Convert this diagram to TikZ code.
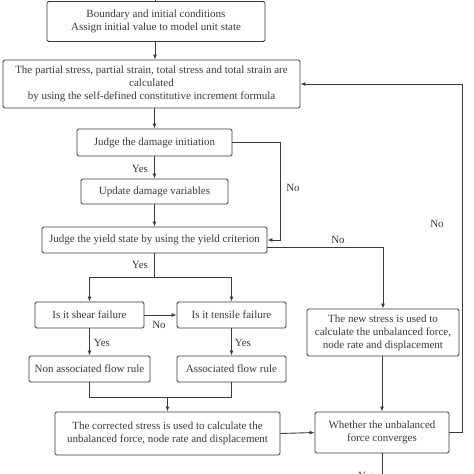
\documentclass[tikz,border=0pt]{standalone}
\usepackage{fontspec}
\setmainfont{Liberation Serif}
\usetikzlibrary{arrows.meta,calc}
\definecolor{ink}{HTML}{3A3A3A}
\tikzset{
  box/.style={draw=ink, line width=0.9pt, rounded corners=1.5pt, fill=white,
    text=ink, align=center, inner sep=0pt,
    font=\fontsize{11pt}{13pt}\selectfont},
  conn/.style={draw=ink, line width=0.9pt},
  arr/.style={conn, -{Latex[length=5pt,width=4pt]}},
  lbl/.style={text=ink, font=\fontsize{11pt}{13pt}\selectfont, inner sep=0pt}
}
\begin{document}
\begin{tikzpicture}[x=1pt,y=-1pt]
\useasboundingbox (0,0) rectangle (474,474);
\fill[white] (0,0) rectangle (474,474);
% nodes
\node[box, minimum width=218, minimum height=40] (top) at (156,21.5)
  {Boundary and initial conditions\\Assign initial value to model unit state};
\node[box, minimum width=297, minimum height=48] (calc) at (151.5,84)
  {The partial stress, partial strain, total stress and total strain are\\calculated\\by using the self-defined constitutive increment formula};
\node[box, minimum width=155, minimum height=27] (damage) at (154.5,142.5)
  {Judge the damage initiation};
\node[box, minimum width=147, minimum height=25] (update) at (154.5,191.5)
  {Update damage variables};
\node[box, minimum width=225, minimum height=26] (yield) at (154.5,240)
  {Judge the yield state by using the yield criterion};
\node[box, minimum width=109, minimum height=26] (shear) at (89.5,315)
  {Is it shear failure};
\node[box, minimum width=109, minimum height=26] (tensile) at (231.5,315)
  {Is it tensile failure};
\node[box, minimum width=152, minimum height=47] (newstress) at (383,332.5)
  {The new stress is used to\\calculate the unbalanced force,\\node rate and displacement};
\node[box, minimum width=121, minimum height=26] (nonassoc) at (89.5,369)
  {Non associated flow rule};
\node[box, minimum width=109, minimum height=26] (assoc) at (231.5,369)
  {Associated flow rule};
\node[box, minimum width=225, minimum height=43] (corrected) at (167.5,433.5)
  {The corrected stress is used to calculate the\\unbalanced force, node rate and displacement};
\node[box, minimum width=134, minimum height=41] (whether) at (382,432.5)
  {Whether the unbalanced\\force converges};
% free ends
\coordinate (intop) at (155,-5);
\coordinate (outbot) at (382,480);
% connectors
\draw[conn] (intop) -- (intop |- top.north);
\draw[arr] (top.south -| 155,0) -- (155,0 |- calc.north);
\draw[arr] (damage.north |- calc.south) -- (damage.north);
\draw[arr] (damage.south) -- (update.north);
\node[lbl] (yes1) at (140,169) {Yes};
\draw[arr] (update.south) -- (yield.north);
\draw[arr] (damage.east) -- ++(48,0) |- (yield.east);
\node[lbl] (no1) at (293,188) {No};
\draw[arr] ($(yield.south east)+(0,-6)$) -| (newstress.north);
\node[lbl] (no2) at (338,240) {No};
\draw[conn] (yield.south) -- (yield.south |- 0,277) coordinate (split);
\draw[arr] (split) -| (shear.north);
\draw[arr] (split) -| (tensile.north);
\node[lbl] (yes2) at (140,265) {Yes};
\draw[arr] (shear.east) -- (tensile.west);
\node[lbl] (no3) at (159,325) {No};
\draw[arr] (shear.south) -- (nonassoc.north);
\node[lbl] (yes3) at (102,343) {Yes};
\draw[arr] (tensile.south) -- (assoc.north);
\node[lbl] (yes4) at (243,343) {Yes};
\draw[conn] (nonassoc.south) -- ++(0,15) -| (assoc.south);
\draw[arr] (corrected.north |- 0,397) -- (corrected.north);
\draw[arr] (corrected.east) -- (whether.west);
\draw[arr] (newstress.south -| whether.north) -- (whether.north);
\draw[arr] (whether.east) -- ++(13,0) |- (calc.east);
\node[lbl] (no4) at (437,224) {No};
\draw[conn] (whether.south) -- (outbot);
\node[lbl] (yes5) at (366,476) {Yes};
\end{tikzpicture}
\end{document}
